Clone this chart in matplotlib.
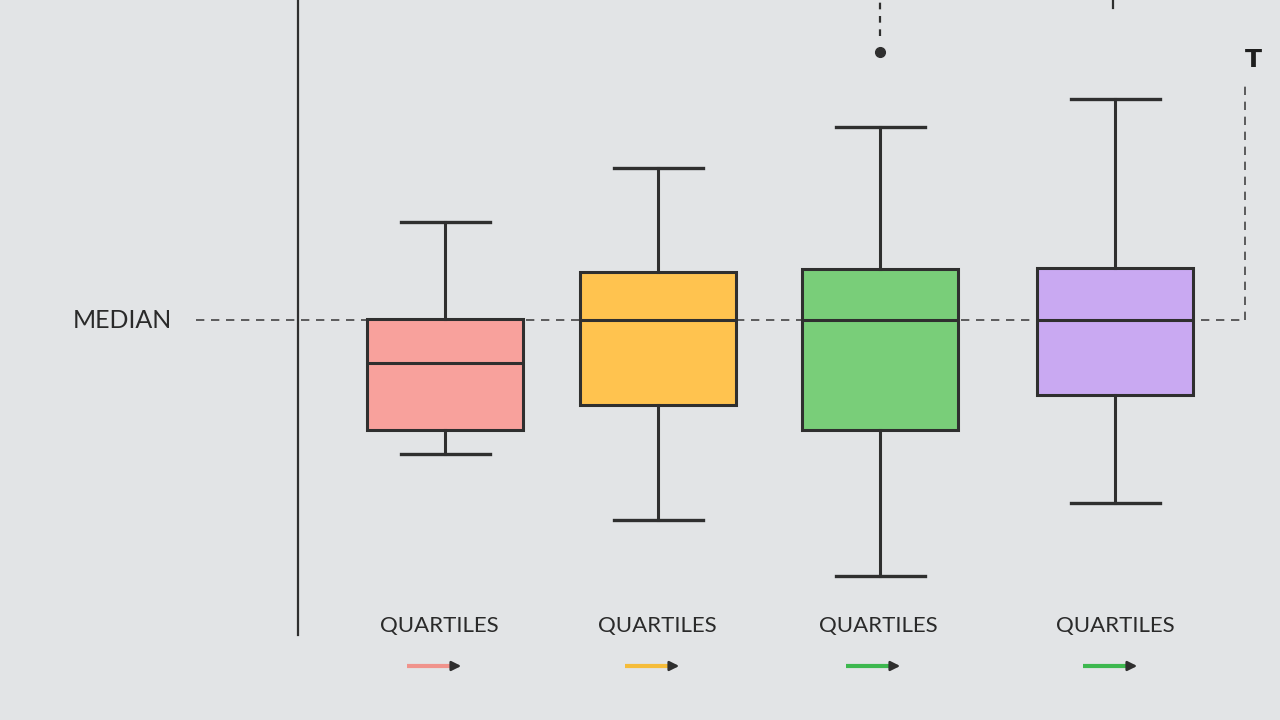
import matplotlib.pyplot as plt

# box statistics (value units, higher = up)
groups = ['A', 'B', 'C', 'D']
whislo = [26.6, 20.0, 14.4, 21.7]
q1 = [29.0, 31.5, 29.0, 32.5]
med = [35.7, 40.0, 40.0, 40.0]
q3 = [40.1, 44.8, 45.1, 45.2]
whishi = [49.8, 55.2, 59.3, 62.1]
outliers = [[], [], [66.8], []]
overall_median = 40.0

box_colors = ['#F8A19C', '#FFC34F', '#79CE79', '#C9A9F2']
arrow_colors = ['#F0938C', '#F5BC3A', '#3DB84F', '#3DB84F']
positions = [445, 658, 880, 1115]
label_pos = [439, 657, 878, 1115]

bg = '#E2E4E6'
ink = '#2F2F2F'

fig = plt.figure(figsize=(12.8, 7.2), dpi=100)
fig.patch.set_facecolor(bg)
ax = fig.add_axes([0, 0, 1, 1])
ax.set_facecolor(bg)
ax.set_xlim(0, 1280)
ax.set_ylim(0, 72)
ax.axis('off')

stats = []
for i in range(len(groups)):
    stats.append(dict(whislo=whislo[i], q1=q1[i], med=med[i], q3=q3[i],
                      whishi=whishi[i], fliers=outliers[i], label=groups[i]))

bp = ax.bxp(stats, positions=positions, widths=156, capwidths=89,
            patch_artist=True, showfliers=True, manage_ticks=False,
            boxprops=dict(edgecolor=ink, linewidth=2.2),
            medianprops=dict(color=ink, linewidth=2.2),
            whiskerprops=dict(color=ink, linewidth=2.2),
            capprops=dict(color=ink, linewidth=2.4),
            flierprops=dict(marker='o', markerfacecolor=ink, markeredgecolor=ink,
                            markersize=7))
for patch, c in zip(bp['boxes'], box_colors):
    patch.set_facecolor(c)
    patch.set_zorder(3)
for key in ['medians', 'whiskers', 'caps', 'fliers']:
    for ln in bp[key]:
        ln.set_zorder(4)

# vertical axis line
ax.plot([298, 298], [72 - 63.5, 72], color=ink, linewidth=1.6, zorder=2)

# median reference line
ax.plot([196, 1245], [overall_median, overall_median], color='#444444',
        linewidth=1.2, linestyle=(0, (5, 4)), zorder=1)
ax.plot([1245, 1245], [overall_median, 63.8], color='#444444',
        linewidth=1.2, linestyle=(0, (5, 4)), zorder=1)
ax.text(1253, 66.0, 'T', ha='center', va='center', fontsize=18,
        fontweight='bold', color='#1E1E1E')
ax.text(122, overall_median, 'MEDIAN', ha='center', va='center',
        fontsize=18, color='#2A2A2A', family='Lato')

# leaders above outliers / top whisker
for i, fl in enumerate(outliers):
    for v in fl:
        ax.plot([positions[i], positions[i]], [v + 1.6, 72], color=ink,
                linewidth=1.6, linestyle=(0, (3, 3)), zorder=2)
ax.plot([positions[3] - 2, positions[3] - 2], [71.2, 72], color=ink,
        linewidth=1.6, zorder=2)

# quartile labels with arrows
for x, c in zip(label_pos, arrow_colors):
    ax.text(x, 72 - 62.6, 'QUARTILES', ha='center', va='center',
            fontsize=16, color='#2A2A2A', family='Lato')
    ax.plot([x - 32, x + 14], [72 - 66.6, 72 - 66.6], color=c,
            linewidth=3, solid_capstyle='butt', zorder=2)
    ax.annotate('', xy=(x + 25, 72 - 66.6), xytext=(x + 10, 72 - 66.6),
                arrowprops=dict(arrowstyle='-|>', color=ink, lw=1.8,
                                mutation_scale=14))

fig.savefig('out.png', dpi=100, facecolor=bg)
